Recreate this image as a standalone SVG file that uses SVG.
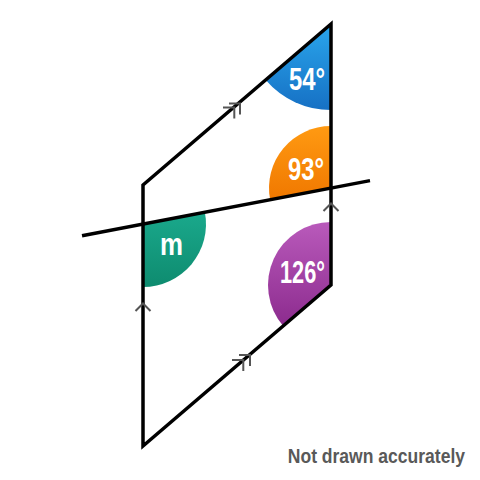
<svg xmlns="http://www.w3.org/2000/svg" width="480" height="480" viewBox="0 0 480 480">
  <defs>
    <linearGradient id="gBlue" x1="0" y1="0" x2="0" y2="1">
      <stop offset="0" stop-color="#2aa6ec"/>
      <stop offset="1" stop-color="#1670c4"/>
    </linearGradient>
    <linearGradient id="gOrange" x1="0" y1="0" x2="0" y2="1">
      <stop offset="0" stop-color="#ff9a12"/>
      <stop offset="1" stop-color="#f07800"/>
    </linearGradient>
    <linearGradient id="gPurple" x1="0" y1="0" x2="0" y2="1">
      <stop offset="0" stop-color="#b95abb"/>
      <stop offset="1" stop-color="#8c2b8e"/>
    </linearGradient>
    <linearGradient id="gGreen" x1="0" y1="0" x2="0" y2="1">
      <stop offset="0" stop-color="#1aa98c"/>
      <stop offset="1" stop-color="#0e8b6f"/>
    </linearGradient>
  </defs>
  <style>
    .lbl { font-family: "Liberation Sans Narrow", "Liberation Sans", sans-serif; font-weight: bold; fill: #ffffff; font-size: 32px; }
    .edge { stroke: #000000; stroke-width: 3.5; fill: none; stroke-linejoin: miter; }
    .tick { stroke: #555555; stroke-width: 2; fill: none; stroke-linecap: butt; }
    .note { font-family: "Liberation Sans", sans-serif; font-weight: bold; fill: #595959; font-size: 21px; }
  </style>

  <g id="angle-54">
    <path d="M331,24 L331,110 A86,86 0 0,1 265.7,80 Z" fill="url(#gBlue)"/>
    <text class="lbl" x="289" y="90" textLength="36" lengthAdjust="spacingAndGlyphs">54°</text>
  </g>
  <g id="angle-93">
    <path d="M331,188 L270.1,199.6 A62,62 0 0,1 331,126 Z" fill="url(#gOrange)"/>
    <text class="lbl" x="288" y="180" textLength="36" lengthAdjust="spacingAndGlyphs">93°</text>
  </g>
  <g id="angle-126">
    <path d="M331,285 L283.2,326 A63,63 0 0,1 331,222 Z" fill="url(#gPurple)"/>
    <text class="lbl" x="280" y="283" textLength="45" lengthAdjust="spacingAndGlyphs">126°</text>
  </g>
  <g id="angle-m">
    <path d="M143,224 L204.9,212.2 A63,63 0 0,1 143,287 Z" fill="url(#gGreen)"/>
    <text class="lbl" x="160" y="255" font-size="34" textLength="23" lengthAdjust="spacingAndGlyphs">m</text>
  </g>

  <g id="connectors">
    <path class="edge" d="M143,446 L143,185 L331,24 L331,285 Z"/>
    <line class="edge" x1="82" y1="235.7" x2="370" y2="180.6"/>
    <path class="tick" d="M223,107.5 L234.3,107.5 L234.3,118.5"/>
    <path class="tick" d="M229,103.5 L240,103.5 L240,114.5"/>
    <path class="tick" d="M232,360 L243.3,360 L243.3,371"/>
    <path class="tick" d="M239,355 L250,355 L250,366"/>
    <path class="tick" d="M135.5,311 L143,303.5 L150.5,311"/>
    <path class="tick" d="M323.5,211 L331,203.5 L338.5,211"/>
  </g>

  <g id="note">
    <text class="note" transform="translate(465,463) scale(0.835,1)" x="0" y="0" text-anchor="end">Not drawn accurately</text>
  </g>
</svg>
